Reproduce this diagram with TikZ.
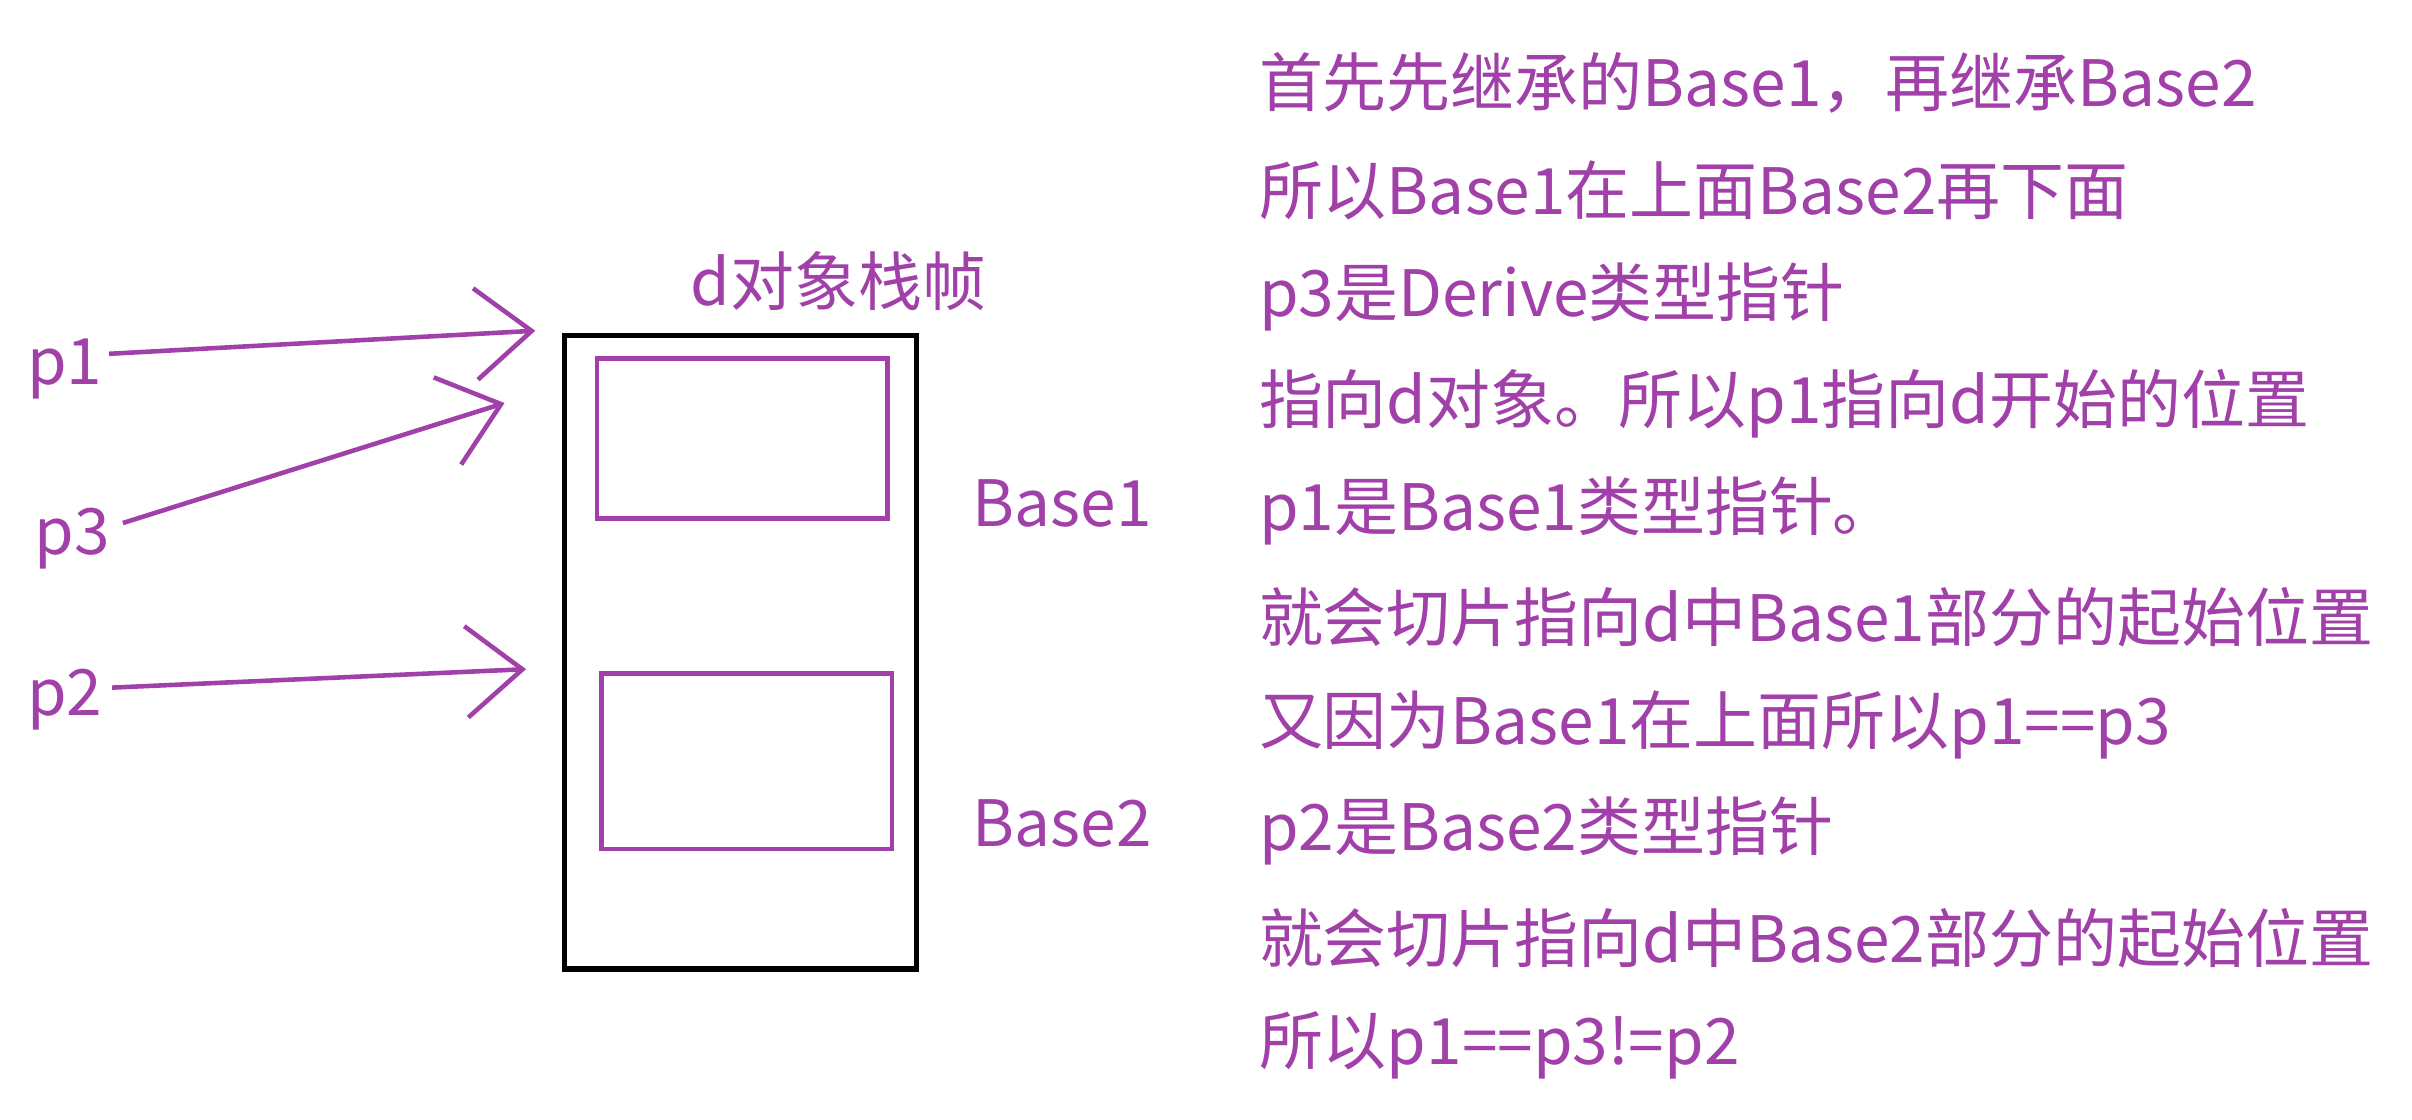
\documentclass[tikz,border=0pt]{standalone}
\usepackage{fontspec}
\setmainfont{Noto Sans CJK SC}
\usetikzlibrary{arrows.meta}
\definecolor{pu}{RGB}{160,64,168}
\begin{document}
\begin{tikzpicture}[x=0.01538cm,y=-0.01538cm,
  txt/.style={text=pu,font=\fontsize{18.2}{20}\selectfont,inner sep=0pt},
  ptr/.style={draw=pu,line width=1.3pt,-{Straight Barb[length=16pt,width=26pt,line width=1.3pt]}},
  box/.style={draw=pu,line width=1.3pt}]
\useasboundingbox (0,0) rectangle (1568,728);
\draw[line width=1.5pt] (367,218) rectangle (596,630);
\draw[box] (388,233) rectangle (577,337);
\draw[box] (391,438) rectangle (580,552);
\coordinate (t1) at (348,215);
\coordinate (t3) at (328,262);
\coordinate (t2) at (342,435);
\node[txt] (title) at (545,183) {d对象栈帧};
\node[txt,anchor=west] (n1) at (632,327) {Base1};
\node[txt,anchor=west] (n2) at (632,535) {Base2};
\node[txt] (p1) at (42,240) {p1};
\node[txt] (p3) at (47,350) {p3};
\node[txt] (p2) at (42,455) {p2};
\draw[ptr] (p1.east) ++(4,-10) -- (t1);
\draw[ptr] (p3.east) ++(8,-10) -- (t3);
\draw[ptr] (p2.east) ++(6,-8) -- (t2);
\foreach \i/\s in {0/首先先继承的Base1，再继承Base2,1/所以Base1在上面Base2再下面,2/p3是Derive类型指针,3/指向d对象。所以p1指向d开始的位置,4/p1是Base1类型指针。,5/就会切片指向d中Base1部分的起始位置,6/又因为Base1在上面所以p1==p3,7/p2是Base2类型指针,8/就会切片指向d中Base2部分的起始位置,9/所以p1==p3!=p2}
  \node[txt,anchor=west] (l\i) at (818,{54+69.5*\i}) {\s};
\end{tikzpicture}
\end{document}
